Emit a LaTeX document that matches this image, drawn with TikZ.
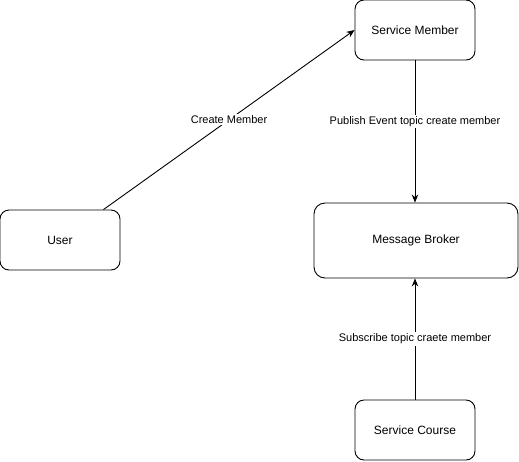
\documentclass[tikz,border=0pt]{standalone}
\usepackage{fontspec}
\setmainfont{Liberation Sans}
\usetikzlibrary{arrows.meta}

\begin{document}
\begin{tikzpicture}[
    x=1pt, y=-1pt,
    >={Stealth[length=8pt, width=6.5pt]},
    box/.style={rectangle, draw, line width=0.9pt, rounded corners=9pt, minimum width=120pt, minimum height=60pt, align=center, font=\fontsize{12}{14}\selectfont},
    bigbox/.style={box, minimum width=204pt, minimum height=75pt, rounded corners=11pt},
    lbl/.style={fill=white, inner sep=1.5pt, font=\fontsize{11}{13}\selectfont}
]
\useasboundingbox (0,0) rectangle (519,461);

% Nodes
\node[box] (member) at (415,30) {Service Member};
\node[box] (user) at (60,240) {User};
\node[bigbox] (broker) at (416,240.5) {Message Broker};
\node[box] (course) at (415,430) {Service Course};

% Arrows
\draw[->, line width=0.9pt] (user.35) -- node[lbl] {Create Member} (member.west);
\draw[->, line width=0.9pt] (member) -- node[lbl, pos=0.43] {Publish Event topic create member} (member |- broker.north);
\draw[->, line width=0.9pt] (course) -- node[lbl] {Subscribe topic craete member} (course |- broker.south);

\end{tikzpicture}
\end{document}
